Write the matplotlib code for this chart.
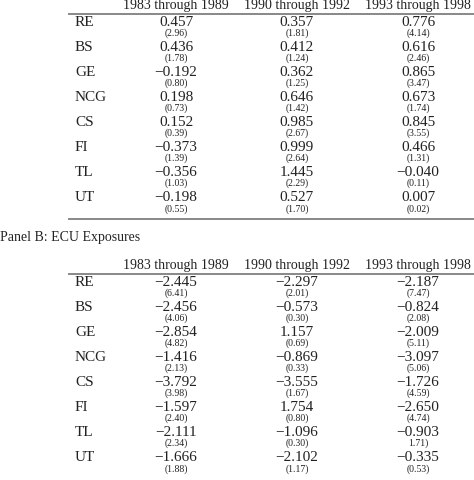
import matplotlib
matplotlib.use("Agg")
import matplotlib.pyplot as plt
from matplotlib.lines import Line2D

rows = ["RE", "BS", "GE", "NCG", "CS", "FI", "TL", "UT"]
periods = ["1983 through 1989", "1990 through 1992", "1993 through 1998"]

a_vals = [[0.457, 0.357, 0.776], [0.436, 0.412, 0.616], [-0.192, 0.362, 0.865],
          [0.198, 0.646, 0.673], [0.152, 0.985, 0.845], [-0.373, 0.999, 0.466],
          [-0.356, 1.445, -0.040], [-0.198, 0.527, 0.007]]
a_t = [["(2.96)", "(1.81)", "(4.14)"], ["(1.78)", "(1.24)", "(2.46)"],
       ["(0.80)", "(1.25)", "(3.47)"], ["(0.73)", "(1.42)", "(1.74)"],
       ["(0.39)", "(2.67)", "(3.55)"], ["(1.39)", "(2.64)", "(1.31)"],
       ["(1.03)", "(2.29)", "(0.11)"], ["(0.55)", "(1.70)", "(0.02)"]]
b_vals = [[-2.445, -2.297, -2.187], [-2.456, -0.573, -0.824], [-2.854, 1.157, -2.009],
          [-1.416, -0.869, -3.097], [-3.792, -3.555, -1.726], [-1.597, 1.754, -2.650],
          [-2.111, -1.096, -0.903], [-1.666, -2.102, -0.335]]
b_t = [["(6.41)", "(2.01)", "(7.47)"], ["(4.06)", "(0.30)", "(2.08)"],
       ["(4.82)", "(0.69)", "(5.11)"], ["(2.13)", "(0.33)", "(5.06)"],
       ["(3.98)", "(1.67)", "(4.59)"], ["(2.40)", "(0.80)", "(4.74)"],
       ["(2.34)", "(0.30)", "1.71)"], ["(1.88)", "(1.17)", "(0.53)"]]
panel_b_title = "Panel B: ECU Exposures"

W, H = 474, 480
fig = plt.figure(figsize=(W / 100, H / 100), dpi=100)
fig.patch.set_facecolor("white")
FONT = "Liberation Serif"

def T(x, y, s, size=10, ha="center"):
    fig.text(x / W, 1 - y / H, s, fontsize=size, family=FONT, ha=ha, va="center", color="#222222")

def rule(y, x0=69, x1=474):
    fig.add_artist(Line2D([x0 / W, x1 / W], [1 - y / H, 1 - y / H], color="#888888", lw=1.4))

def fmt(v):
    s = f"{abs(v):.3f}"
    return ("\u2212" + s) if v < 0 else s

cols = [176, 297, 418]

def panel(y_head, vals, ts):
    for c, p in zip(cols, periods):
        T(c, y_head, p, 10)
    rule(y_head + 9)
    for i, r in enumerate(rows):
        y = y_head + 17 + i * 25.1
        T(75, y, r, 11, ha="left")
        for j, c in enumerate(cols):
            T(c, y, fmt(vals[i][j]), 11)
            T(c, y + 11, ts[i][j], 7)
    return y_head + 17 + 7 * 25.1 + 21

yb = panel(5, a_vals, a_t)
rule(yb)
T(0, 237, panel_b_title, 10, ha="left")
panel(265, b_vals, b_t)

fig.savefig("out.png", dpi=100)
